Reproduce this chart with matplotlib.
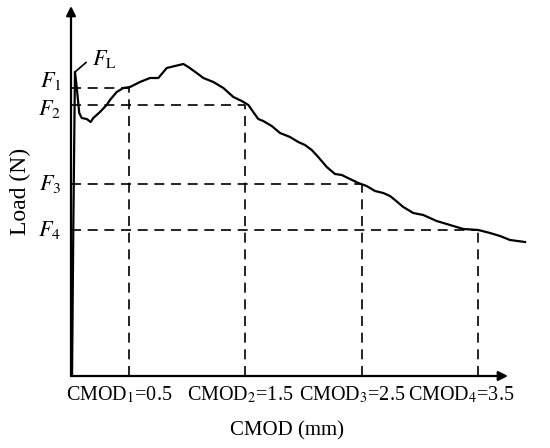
import matplotlib
matplotlib.use("Agg")
import matplotlib.pyplot as plt

plt.rcParams['font.family'] = ['Liberation Serif', 'DejaVu Serif']
plt.rcParams['mathtext.fontset'] = 'stix'

# ---- data ----
cmod = [0.009, 0.020, 0.034, 0.049, 0.071, 0.092, 0.135, 0.169, 0.192, 0.249, 0.307,
        0.335, 0.393, 0.450, 0.507, 0.593, 0.679, 0.751, 0.823, 0.894, 0.966, 1.009,
        1.081, 1.138, 1.224, 1.310, 1.396, 1.468, 1.525, 1.567, 1.610, 1.653, 1.726,
        1.797, 1.883, 1.954, 2.012, 2.070, 2.126, 2.199, 2.270, 2.328, 2.399, 2.470,
        2.542, 2.614, 2.685, 2.743, 2.786, 2.857, 2.943, 3.029, 3.144, 3.259, 3.373,
        3.502, 3.603, 3.689, 3.775, 3.904]
load = [0.00, 1.50, 3.04, 2.89, 2.63, 2.58, 2.57, 2.54, 2.58, 2.64, 2.71,
        2.76, 2.84, 2.88, 2.89, 2.94, 2.98, 2.98, 3.08, 3.10, 3.12, 3.09,
        3.03, 2.98, 2.94, 2.88, 2.79, 2.75, 2.71, 2.64, 2.57, 2.55, 2.50,
        2.43, 2.39, 2.34, 2.31, 2.26, 2.19, 2.09, 2.02, 2.01, 1.97, 1.93,
        1.90, 1.85, 1.83, 1.80, 1.76, 1.69, 1.63, 1.61, 1.55, 1.51, 1.47,
        1.46, 1.43, 1.40, 1.36, 1.34]
cmod_marks = [0.5, 1.5, 2.5, 3.5]
f_marks = [2.88, 2.71, 1.92, 1.46]
f_names = [r'$F_1$', r'$F_2$', r'$F_3$', r'$F_4$']
cmod_labels = [r'CMOD$_1$=0.5', r'CMOD$_2$=1.5', r'CMOD$_3$=2.5', r'CMOD$_4$=3.5']
fl_point = (0.034, 3.04)

# ---- layout ----
W, H = 550, 448
fig = plt.figure(figsize=(W / 100, H / 100), dpi=100)
ax = fig.add_axes([71 / W, 72 / H, 459 / W, 370 / H])
xmax = 459 / 116.3
ax.set_xlim(0, xmax)
ax.set_ylim(0, 3.70)
ax.axis('off')

# axes with arrows
x_arrow_end = (508 - 71) / 116.3
ax.annotate('', xy=(x_arrow_end, 0), xytext=(0, 0),
            arrowprops=dict(arrowstyle='-|>', color='black', lw=1.6,
                            mutation_scale=14, shrinkA=0, shrinkB=0),
            annotation_clip=False)
ax.annotate('', xy=(0, 3.70), xytext=(0, 0),
            arrowprops=dict(arrowstyle='-|>', color='black', lw=1.6,
                            mutation_scale=14, shrinkA=0, shrinkB=0),
            annotation_clip=False)

# dashed guide lines
for xm, fm in zip(cmod_marks, f_marks):
    ax.plot([0, xm], [fm, fm], color='black', lw=1.2, dashes=(6, 4), clip_on=False)
    ax.plot([xm, xm], [0, fm], color='black', lw=1.2, dashes=(6, 4), clip_on=False)

# curve
ax.plot(cmod, load, color='black', lw=1.6, clip_on=False, solid_joinstyle='round')

# F labels (vertical offsets keep F1 / F2 apart as in the reference)
f_offsets = [5, -3, 0, 0]
for fm, nm, dy in zip(f_marks, f_names, f_offsets):
    ax.annotate(nm, xy=(0, fm), xytext=(-7, dy), textcoords='offset points',
                ha='right', va='center', fontsize=16)

# F_L label with leader line
ax.plot([fl_point[0], fl_point[0] + 0.095], [fl_point[1], fl_point[1] + 0.095],
        color='black', lw=1.2)
ax.text(fl_point[0] + 0.15, fl_point[1] + 0.13, r'$F_\mathrm{L}$', fontsize=16,
        ha='left', va='center')

# x labels
label_x = [0.413, 1.453, 2.416, 3.353]
for lx, lab in zip(label_x, cmod_labels):
    ax.annotate(lab, xy=(lx, 0), xytext=(0, -14), textcoords='offset points',
                ha='center', va='center', fontsize=14.5)

fig.text(287 / W, 1 - 431 / H, 'CMOD (mm)', ha='center', va='center', fontsize=15)
fig.text(20 / W, 1 - 191 / H, 'Load (N)', ha='center', va='center', fontsize=17,
         rotation=90)

fig.savefig('out.png', dpi=100)
